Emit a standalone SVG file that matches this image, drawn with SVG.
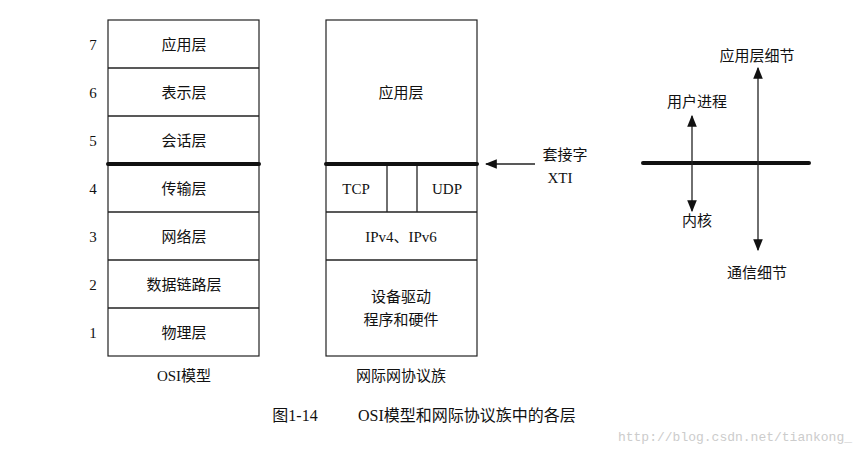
<svg xmlns="http://www.w3.org/2000/svg" width="865" height="454" viewBox="0 0 865 454">
<style>
text{font-family:"Liberation Serif","Noto Sans CJK SC",serif;font-size:15px;fill:#111;text-anchor:middle}
.b{fill:#fff;stroke:#222;stroke-width:1.2}
.t{stroke:#111;stroke-width:4;stroke-linecap:round}
.l{stroke:#222;stroke-width:1.3}
</style>
<defs><marker id="a" viewBox="0 0 10 10" refX="9" refY="5" markerWidth="12" markerHeight="14" markerUnits="userSpaceOnUse" orient="auto-start-reverse"><path d="M0,1L10,5L0,9z" fill="#111"/></marker></defs>
<rect width="865" height="454" fill="#fff"/>
<g id="osi">
<rect class="b" x="108" y="20" width="151" height="336"/>
<g class="l"><line x1="108" y1="68" x2="259" y2="68"/><line x1="108" y1="116" x2="259" y2="116"/><line x1="108" y1="212" x2="259" y2="212"/><line x1="108" y1="260" x2="259" y2="260"/><line x1="108" y1="308" x2="259" y2="308"/></g>
<text x="184" y="50">应用层</text><text x="184" y="98">表示层</text><text x="184" y="146">会话层</text><text x="184" y="194">传输层</text><text x="184" y="242">网络层</text><text x="184" y="290">数据链路层</text><text x="184" y="338">物理层</text>
<text x="93" y="50">7</text><text x="93" y="98">6</text><text x="93" y="146">5</text><text x="93" y="194">4</text><text x="93" y="242">3</text><text x="93" y="290">2</text><text x="93" y="338">1</text>
<text x="184" y="381">OSI模型</text>
</g>
<g id="tcpip">
<rect class="b" x="326" y="20" width="151" height="336"/>
<g class="l"><line x1="326" y1="212" x2="477" y2="212"/><line x1="326" y1="260" x2="477" y2="260"/><line x1="387" y1="164" x2="387" y2="212"/><line x1="417" y1="164" x2="417" y2="212"/></g>
<text x="401" y="98">应用层</text><text x="356" y="194">TCP</text><text x="447" y="194">UDP</text><text x="401" y="242">IPv4、IPv6</text><text x="401" y="302">设备驱动</text><text x="401" y="325">程序和硬件</text>
<text x="401" y="381">网际网协议族</text>
</g>
<g id="lines">
<line class="t" x1="108" y1="164" x2="259" y2="164"/>
<line class="t" x1="326" y1="164" x2="477" y2="164"/>
<line class="l" x1="535" y1="164" x2="486" y2="164" marker-end="url(#a)"/>
<line class="t" x1="643" y1="163" x2="809" y2="163"/>
<line class="l" x1="692" y1="116" x2="692" y2="211" marker-start="url(#a)" marker-end="url(#a)"/>
<line class="l" x1="758" y1="68" x2="758" y2="250" marker-start="url(#a)" marker-end="url(#a)"/>
</g>
<text x="565" y="160">套接字</text><text x="560" y="183">XTI</text>
<text x="757" y="61">应用层细节</text><text x="697" y="107">用户进程</text><text x="697" y="226">内核</text><text x="757" y="278">通信细节</text>
<text x="295" y="421" style="font-size:16px">图1-14</text>
<text x="358" y="421" style="font-size:16px;text-anchor:start">OSI模型和网际协议族中的各层</text>
<text x="735" y="441" style="font-family:'Liberation Mono',monospace;font-size:13px;fill:#ccc">http://blog.csdn.net/tiankong_</text>
</svg>
